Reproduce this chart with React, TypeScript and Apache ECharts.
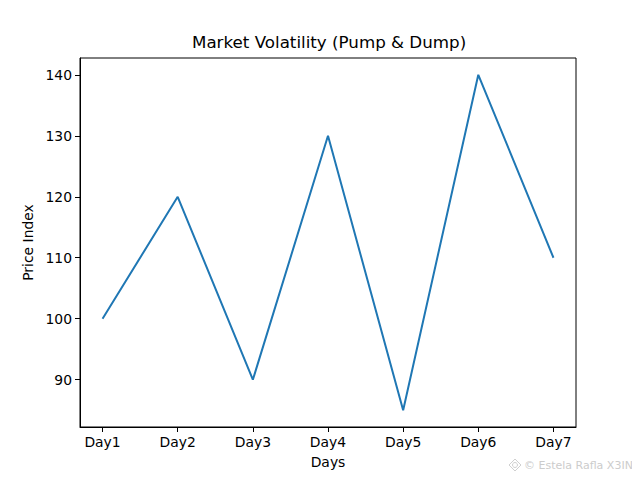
import React, { useEffect, useRef } from "react";
import * as echarts from "echarts";

const days = ["Day1", "Day2", "Day3", "Day4", "Day5", "Day6", "Day7"];
const priceIndex = [100, 120, 90, 130, 85, 140, 110];
const yTicks = [90, 100, 110, 120, 130, 140];

const FONT = "DejaVu Sans";

export default function App() {
  const ref = useRef<HTMLDivElement>(null);
  useEffect(() => {
    if (!ref.current) return;
    const chart = echarts.init(ref.current, null, { renderer: "svg" });
    const yMinData = Math.min(...priceIndex);
    const yMaxData = Math.max(...priceIndex);
    const yPad = (yMaxData - yMinData) * 0.05;
    const xPad = (days.length - 1) * 0.05;
    chart.setOption({
      animation: false,
      backgroundColor: "#ffffff",
      title: {
        text: "Market Volatility (Pump & Dump)",
        left: 187,
        top: 28,
        textStyle: { fontFamily: FONT, fontSize: 16.7, fontWeight: "normal", color: "#000" },
      },
      grid: {
        left: 80,
        right: 64,
        top: 58,
        bottom: 53,
        show: true,
        borderColor: "#000",
        borderWidth: 1,
        backgroundColor: "transparent",
      },
      xAxis: {
        type: "value",
        min: -xPad,
        max: days.length - 1 + xPad,
        name: "Days",
        nameLocation: "middle",
        nameGap: 28,
        nameTextStyle: { fontFamily: FONT, fontSize: 13.9, color: "#000" },
        splitLine: { show: false },
        axisLine: { show: true, onZero: false, lineStyle: { color: "#000", width: 1 } },
        axisTick: {
          show: true,
          length: 5,
          inside: false,
          customValues: days.map((_, i) => i),
          lineStyle: { color: "#000", width: 1 },
        },
        axisLabel: {
          fontFamily: FONT,
          fontSize: 13.9,
          color: "#000",
          margin: 8,
          customValues: days.map((_, i) => i),
          formatter: (v: number) => days[Math.round(v)] ?? "",
        },
      },
      yAxis: {
        type: "value",
        min: yMinData - yPad,
        max: yMaxData + yPad,
        name: "Price Index",
        nameLocation: "middle",
        nameGap: 44,
        nameRotate: 90,
        nameTextStyle: { fontFamily: FONT, fontSize: 13.9, color: "#000" },
        splitLine: { show: false },
        axisLine: { show: true, onZero: false, lineStyle: { color: "#000", width: 1 } },
        axisTick: {
          show: true,
          length: 5,
          inside: false,
          customValues: yTicks,
          lineStyle: { color: "#000", width: 1 },
        },
        axisLabel: {
          fontFamily: FONT,
          fontSize: 13.9,
          color: "#000",
          margin: 8,
          customValues: yTicks,
        },
      },
      series: [
        {
          type: "line",
          data: priceIndex.map((v, i) => [i, v]),
          showSymbol: false,
          symbol: "none",
          lineStyle: { color: "#1f77b4", width: 2 },
          itemStyle: { color: "#1f77b4" },
        },
      ],
      graphic: [
        {
          type: "polygon",
          shape: { points: [[515, 459], [521, 465], [515, 471], [509, 465]] },
          style: { fill: "none", stroke: "#d0d0d0", lineWidth: 1 },
        },
        {
          type: "circle",
          shape: { cx: 515, cy: 465, r: 2.5 },
          style: { fill: "none", stroke: "#d0d0d0", lineWidth: 1 },
        },
        {
          type: "text",
          x: 524,
          y: 465,
          style: {
            text: "© Estela Rafla X3IN",
            fontFamily: "DejaVu Sans",
            fontSize: 11,
            fill: "#cccccc",
            verticalAlign: "middle",
          },
        },
      ],
    });
    return () => chart.dispose();
  }, []);
  return <div ref={ref} style={{ width: 640, height: 480, margin: -8 }} />;
}
